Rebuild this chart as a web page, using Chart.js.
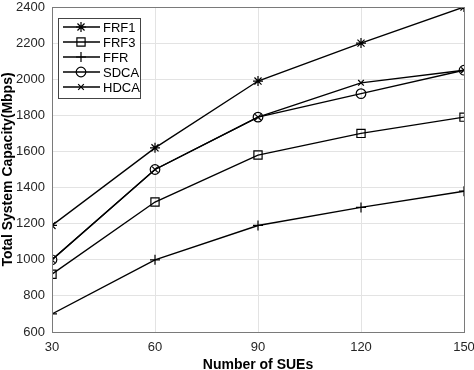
<!DOCTYPE html>
<html>
<head>
<meta charset="utf-8">
<script src="https://cdn.jsdelivr.net/npm/chart.js@4.4.1/dist/chart.umd.min.js"></script>
<style>
  html, body { margin: 0; padding: 0; background: #fff; }
  #wrap { width: 474px; height: 370px; }
</style>
</head>
<body>
<div id="wrap"><canvas id="chart" width="474" height="370"></canvas></div>
<script>
// values
var sues = [30, 60, 90, 120, 150];
var frf1 = [1190, 1620, 1990, 2200, 2400];
var frf3 = [920, 1320, 1580, 1700, 1790];
var ffr  = [700, 1000, 1190, 1290, 1380];
var sdca = [1000, 1500, 1790, 1920, 2050];
var hdca = [1000, 1500, 1790, 1980, 2050];
var seriesNames = ['FRF1', 'FRF3', 'FFR', 'SDCA', 'HDCA'];

var FONT = '"Liberation Sans", Arial, Helvetica, sans-serif';

function toPoints(values) {
    return values.map(function(v, i) { return { x: sues[i], y: v }; });
}

function makeSet(label, values, style, radius) {
    return {
        label: label,
        data: toPoints(values),
        borderColor: '#000',
        backgroundColor: 'rgba(0,0,0,0)',
        borderWidth: 1.4,
        pointStyle: style,
        pointRadius: radius,
        pointBorderColor: '#000',
        pointBorderWidth: 1.2,
        pointBackgroundColor: 'rgba(0,0,0,0)',
        tension: 0
    };
}

// draws the box around the plot area (MATLAB style)
var boxPlugin = {
    id: 'plotBox',
    afterDatasetsDraw: function(chart) {
        var a = chart.chartArea, ctx = chart.ctx;
        ctx.save();
        ctx.strokeStyle = '#7a7a7a';
        ctx.lineWidth = 1;
        ctx.strokeRect(a.left + 0.5, a.top + 0.5, a.right - a.left, a.bottom - a.top);
        ctx.restore();
    }
};

// legend box inside the top-left corner
var legendPlugin = {
    id: 'insideLegend',
    afterDraw: function(chart) {
        var ctx = chart.ctx;
        var a = chart.chartArea;
        var x0 = a.left + 6, y0 = a.top + 11, w = 82, h = 80, step = 15;
        ctx.save();
        ctx.fillStyle = '#fff';
        ctx.fillRect(x0, y0, w, h);
        ctx.strokeStyle = '#444';
        ctx.lineWidth = 1;
        ctx.strokeRect(x0 + 0.5, y0 + 0.5, w, h);
        chart.data.datasets.forEach(function(ds, i) {
            var y = y0 + 9 + i * step;
            ctx.strokeStyle = '#000';
            ctx.lineWidth = 1.4;
            ctx.beginPath();
            ctx.moveTo(x0 + 5, y);
            ctx.lineTo(x0 + 42, y);
            ctx.stroke();
            ctx.lineWidth = 1.2;
            ctx.fillStyle = 'rgba(0,0,0,0)';
            Chart.helpers.drawPoint(ctx, {
                pointStyle: ds.pointStyle,
                radius: ds.pointRadius,
                rotation: 0,
                borderWidth: 1.2
            }, x0 + 23, y);
            ctx.fillStyle = '#000';
            ctx.font = '13px ' + FONT;
            ctx.textAlign = 'left';
            ctx.textBaseline = 'middle';
            ctx.fillText(ds.label, x0 + 45, y + 1);
        });
        ctx.restore();
    }
};

function plainTick(value) { return String(value); }

new Chart(document.getElementById('chart').getContext('2d'), {
    type: 'line',
    data: {
        datasets: [
            makeSet(seriesNames[0], frf1, 'star', 5),
            makeSet(seriesNames[1], frf3, 'rect', 5.8),
            makeSet(seriesNames[2], ffr, 'cross', 5),
            makeSet(seriesNames[3], sdca, 'circle', 4.8),
            makeSet(seriesNames[4], hdca, 'crossRot', 4)
        ]
    },
    options: {
        responsive: false,
        animation: false,
        layout: { padding: { top: 5, right: 10, left: 0, bottom: 0 } },
        plugins: {
            legend: { display: false },
            tooltip: { enabled: false }
        },
        scales: {
            x: {
                type: 'linear',
                min: 30,
                max: 150,
                afterFit: function(s) {
                    s.height = 38;
                    s.paddingLeft = 0;
                    s.paddingRight = 0;
                },
                ticks: {
                    stepSize: 30,
                    callback: plainTick,
                    color: '#262626',
                    font: { family: FONT, size: 13 },
                    padding: 8,
                    maxRotation: 0
                },
                grid: { color: '#e3e3e3', drawTicks: false },
                border: { color: '#7a7a7a' },
                title: {
                    display: true,
                    text: 'Number of SUEs',
                    color: '#000',
                    font: { family: FONT, size: 14, weight: 'bold' },
                    padding: { top: 0, bottom: -4 }
                }
            },
            y: {
                min: 600,
                max: 2400,
                afterFit: function(s) {
                    s.width = 52;
                    s.paddingTop = 0;
                    s.paddingBottom = 0;
                },
                ticks: {
                    stepSize: 200,
                    callback: plainTick,
                    color: '#262626',
                    font: { family: FONT, size: 13 },
                    padding: 7
                },
                grid: { color: '#e3e3e3', drawTicks: false },
                border: { color: '#7a7a7a' },
                title: {
                    display: true,
                    text: 'Total System Capacity(Mbps)',
                    color: '#000',
                    font: { family: FONT, size: 14, weight: 'bold' },
                    padding: { top: 0, bottom: 0 }
                }
            }
        }
    },
    plugins: [boxPlugin, legendPlugin]
});
</script>
</body>
</html>
